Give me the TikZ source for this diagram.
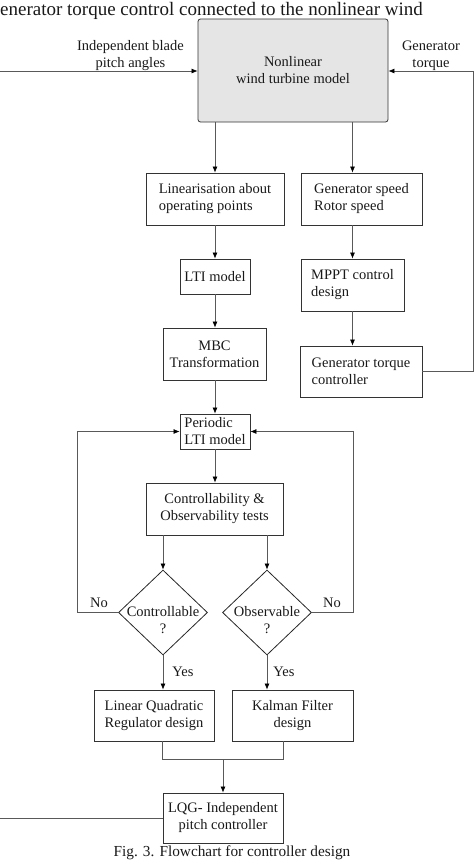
\documentclass[tikz,border=0pt]{standalone}
\usepackage{fontspec}
\setmainfont{Liberation Serif}
\usetikzlibrary{shapes.geometric,arrows.meta,calc}
\begin{document}
\begin{tikzpicture}[x=1pt,y=-1pt,
  every node/.style={font=\fontsize{14.5}{17}\selectfont, text=black!90},
  box/.style={draw=black!80, line width=0.8pt, inner sep=0pt, align=center},
  lbox/.style={box, align=left},
  dia/.style={draw=black!85, line width=0.8pt, diamond, inner sep=0pt, minimum width=89pt, minimum height=85pt},
  con/.style={draw=black!65, line width=0.7pt},
  arr/.style={con, -{Latex[length=6pt,width=5pt,color=black]}},
  lab/.style={inner sep=0pt, align=center}
]
\useasboundingbox (0,0) rectangle (474,863);

% top text
\node[anchor=base west, inner sep=0pt, font=\fontsize{19}{22}\selectfont] (toptext) at (0,15) {enerator torque control connected to the nonlinear wind};

% nodes
\node[box, rounded corners=2.5pt, fill=black!10, minimum width=190pt, minimum height=103pt] (nl) at (293,70.5) {Nonlinear\\wind turbine model};
\node[lbox, minimum width=138pt, minimum height=52pt] (lin) at (215,199) {Linearisation about\\operating points};
\node[lbox, minimum width=121pt, minimum height=52pt] (gen) at (361.5,199) {Generator speed\\Rotor speed};
\node[box, minimum width=70pt, minimum height=35pt] (lti) at (215,276.5) {LTI model};
\node[lbox, minimum width=103pt, minimum height=52pt] (mppt) at (352.5,285) {MPPT control\\design};
\node[box, minimum width=103pt, minimum height=52pt] (mbc) at (214.5,354) {MBC\\Transformation};
\node[lbox, minimum width=122pt, minimum height=51pt] (gtc) at (361,371.5) {Generator torque\\controller};
\node[lbox, minimum width=70pt, minimum height=35pt] (per) at (215,431.5) {Periodic\\LTI model};
\node[box, minimum width=137pt, minimum height=52pt] (cot) at (214.5,509) {Controllability \&\\Observability tests};
\node[dia] (dc) at (163,612.5) {};
\node[lab] (dct) at (163,620) {Controllable\\?};
\node[dia] (do) at (267,612.5) {};
\node[lab] (dot) at (267,620) {Observable\\?};
\node[box, minimum width=120pt, minimum height=51pt] (lqr) at (154,715.5) {Linear Quadratic\\Regulator design};
\node[box, minimum width=121pt, minimum height=51pt] (kal) at (292.5,715.5) {Kalman Filter\\design};
\node[box, minimum width=120pt, minimum height=50pt] (lqg) at (223,818) {LQG- Independent\\pitch controller};

% labels
\node[lab] (inlab) at (130.5,56) {Independent blade\\pitch angles};
\node[lab] (gtlab) at (431,56) {Generator\\torque};
\node[lab] (no1) at (99,603) {No};
\node[lab] (no2) at (332,603) {No};
\node[lab] (yes1) at (183,672) {Yes};
\node[lab] (yes2) at (284,672) {Yes};
\node[lab, font=\fontsize{15.3}{18}\selectfont] (cap) at (232,853) {Fig. 3. Flowchart for controller design};

% coordinates
\coordinate (inL) at (0,71);
\coordinate (inR) at (473,71);
\coordinate (gcorner) at (473,371.5);
\coordinate (outL) at (0,818);
\coordinate (m) at (223,759);

% connectors
\draw[arr] (inL) -- (inL -| nl.west);
\draw[arr] (gtc.east) -- (gcorner) -- (inR) -- (inR -| nl.east);
\draw[arr] (lin.north |- nl.south) -- (lin.north);
\draw[arr] (mppt.north |- nl.south) -- (mppt.north |- gen.north);
\draw[arr] (mppt.north |- gen.south) -- (mppt.north);
\draw[arr] (mppt.south) -- (mppt.south |- gtc.north);
\draw[arr] (lin.south) -- (lti.north);
\draw[arr] (lti.south) -- (mbc.north -| lti.south);
\draw[arr] (mbc.south -| lti.south) -- (per.north);
\draw[arr] (per.south) -- (cot.north -| per.south);
\draw[arr] (dc.north |- cot.south) -- (dc.north);
\draw[arr] (do.north |- cot.south) -- (do.north);
\draw[arr] (dc.south) -- (dc.south |- lqr.north);
\draw[arr] (do.south) -- (do.south |- kal.north);
\draw[arr] (dc.west) -- (77,612.5) |- (per.west);
\draw[arr] (do.east) -- (353,612.5) |- (per.east);
\draw[con] (lqr.south -| lqg.west) |- (m) -| (kal.south -| lqg.east);
\draw[arr] (m) -- (lqg.north);
\draw[con] (lqg.west) -- (outL);
\end{tikzpicture}
\end{document}
